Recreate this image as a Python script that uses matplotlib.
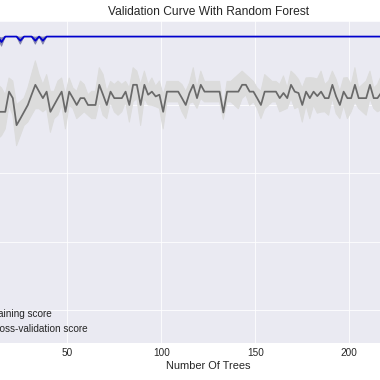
import numpy as np
import matplotlib.pyplot as plt
import seaborn as sns

sns.set_style('darkgrid')
plt.rcParams['font.family'] = ['Liberation Sans', 'DejaVu Sans']

# 树的数量
param_range = list(range(1, 250, 2))

# 训练得分 (均值, 标准差)
train_mean = [0.930, 0.970, 0.985, 0.990, 0.995, 0.990, 1.000, 0.984, 1.000, 1.000,
              1.000, 1.000, 0.988, 1.000, 1.000, 1.000, 0.988, 1.000, 0.988, 1.000] + [1.000] * 105
train_std = [0.030, 0.020, 0.012, 0.010, 0.008, 0.010, 0.000, 0.012, 0.000, 0.000,
             0.000, 0.000, 0.010, 0.000, 0.000, 0.000, 0.010, 0.000, 0.010, 0.000] + [0.000] * 105

# 交叉验证得分
test_mean = [0.700, 0.740, 0.770, 0.780, 0.800, 0.790, 0.780, 0.780, 0.780, 0.839,
             0.820, 0.741, 0.760, 0.780, 0.800, 0.830, 0.859, 0.839, 0.820, 0.839,
             0.780, 0.800, 0.820, 0.839, 0.780, 0.839, 0.820, 0.800, 0.820, 0.820,
             0.800, 0.800, 0.800, 0.859, 0.830, 0.800, 0.839, 0.820, 0.820, 0.820,
             0.839, 0.800, 0.859, 0.859, 0.800, 0.859, 0.830, 0.839, 0.825, 0.830,
             0.780, 0.839, 0.839, 0.839, 0.839, 0.820, 0.800, 0.835, 0.859, 0.820,
             0.859, 0.839, 0.839, 0.839, 0.839, 0.839, 0.778, 0.839, 0.839, 0.839,
             0.839, 0.859, 0.859, 0.839, 0.839, 0.820, 0.800, 0.839, 0.839, 0.839,
             0.839, 0.820, 0.835, 0.820, 0.859, 0.839, 0.835, 0.800, 0.839, 0.820,
             0.839, 0.826, 0.839, 0.820, 0.820, 0.859, 0.825, 0.800, 0.839, 0.820,
             0.820, 0.859, 0.820, 0.820, 0.820, 0.859, 0.820, 0.820, 0.836, 0.820,
             0.839, 0.820, 0.839, 0.820, 0.800, 0.839, 0.820, 0.839, 0.820, 0.859,
             0.820, 0.839, 0.820, 0.839, 0.820]
test_std = [0.090, 0.080, 0.070, 0.060, 0.070, 0.060, 0.080, 0.070, 0.050, 0.040,
            0.050, 0.060, 0.050, 0.040, 0.050, 0.060, 0.070, 0.050, 0.040, 0.050,
            0.060, 0.040, 0.050, 0.040, 0.050, 0.040, 0.030, 0.040, 0.050, 0.040,
            0.030, 0.040, 0.040, 0.050, 0.060, 0.040, 0.030, 0.040, 0.050, 0.040,
            0.030, 0.050, 0.050, 0.040, 0.060, 0.040, 0.030, 0.040, 0.030, 0.040,
            0.050, 0.030, 0.030, 0.030, 0.030, 0.040, 0.040, 0.030, 0.050, 0.030,
            0.040, 0.030, 0.030, 0.030, 0.030, 0.030, 0.020, 0.030, 0.030, 0.040,
            0.050, 0.040, 0.030, 0.040, 0.030, 0.030, 0.040, 0.050, 0.040, 0.030,
            0.030, 0.040, 0.050, 0.030, 0.040, 0.050, 0.040, 0.050, 0.040, 0.060,
            0.040, 0.050, 0.060, 0.040, 0.050, 0.040, 0.050, 0.040, 0.040, 0.060,
            0.040, 0.050, 0.030, 0.040, 0.050, 0.040, 0.030, 0.040, 0.050, 0.040,
            0.040, 0.030, 0.040, 0.050, 0.040, 0.030, 0.040, 0.050, 0.040, 0.030,
            0.040, 0.050, 0.040, 0.030, 0.040]

train_mean = np.array(train_mean)
train_std = np.array(train_std)
test_mean = np.array(test_mean)
test_std = np.array(test_std)

fig = plt.figure(figsize=(380 / 72, 380 / 72), dpi=72)
ax = fig.add_axes([-0.1266, 0.0982, 1.3495, 0.8474])

# 画线
ax.plot(param_range, train_mean, label="Training score", color="mediumblue", linewidth=1.75)
ax.plot(param_range, test_mean, label="Cross-validation score", color="dimgrey", linewidth=1.75)

# 填充标准差
ax.fill_between(param_range, train_mean - train_std, train_mean + train_std, color="#8585b0")
ax.fill_between(param_range, test_mean - test_std, test_mean + test_std, color="gainsboro")

ax.set_xlim(-11.4, 261.4)
ax.set_ylim(0.105, 1.0465)
ax.tick_params(labelsize=10, pad=2)

ax.set_title("Validation Curve With Random Forest", fontsize=12)
ax.set_xlabel("Number Of Trees", fontsize=11, labelpad=3)
ax.set_ylabel("Accuracy Score", fontsize=11)
ax.legend(loc="lower left", fontsize=10, frameon=False)

plt.savefig('out.png', dpi=72)
